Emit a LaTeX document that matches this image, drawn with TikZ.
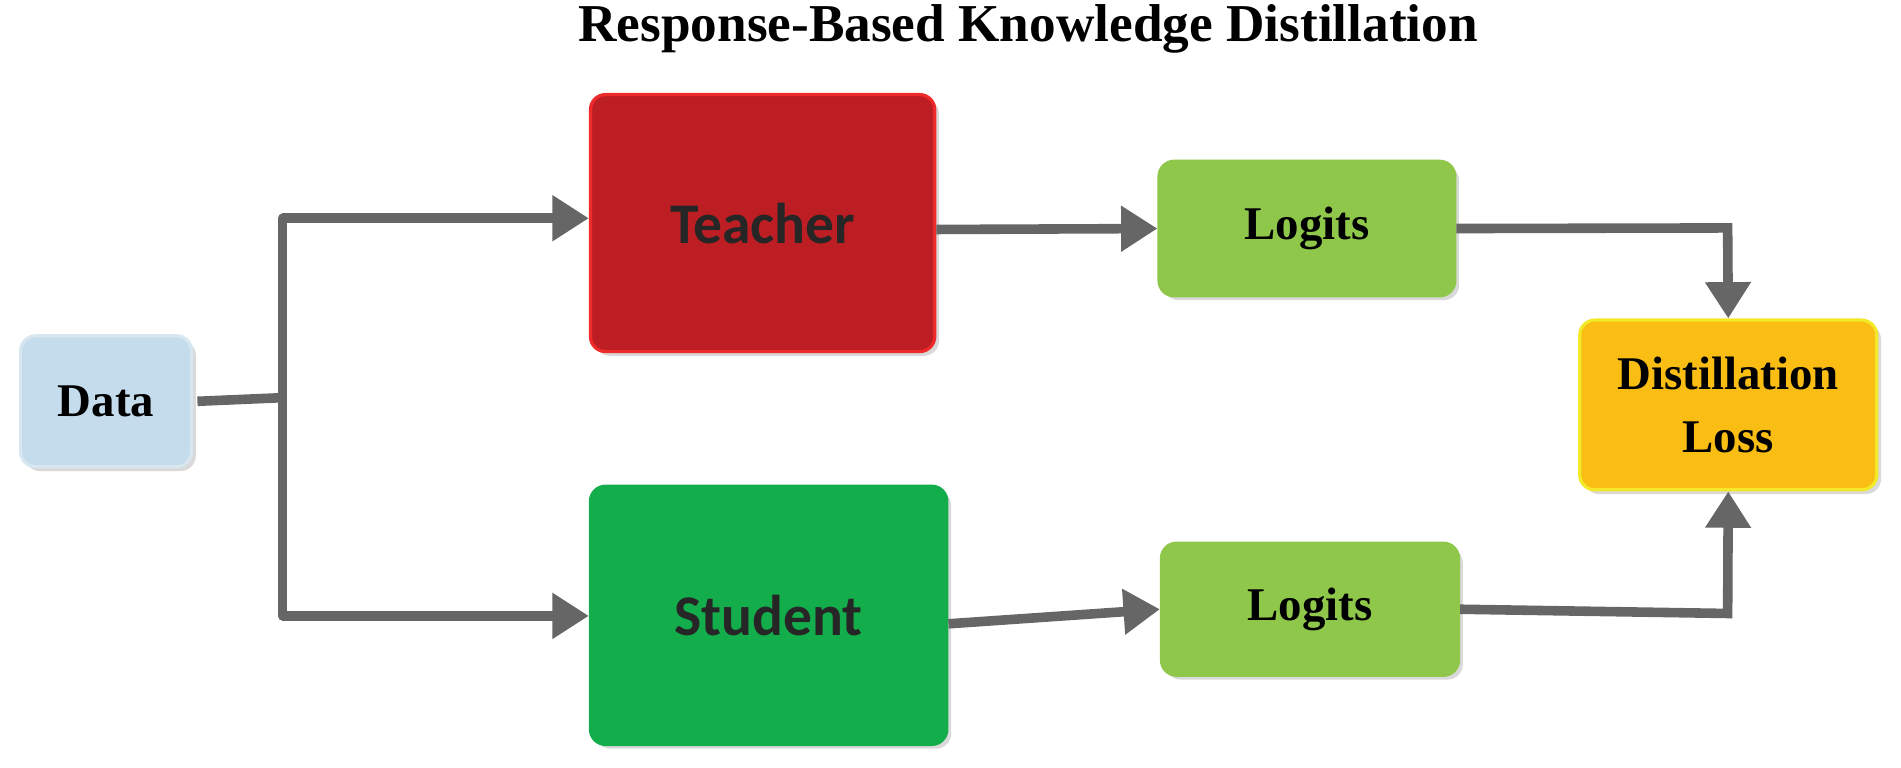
\documentclass[tikz,border=0pt]{standalone}
\usepackage{fontspec}
\setmainfont{Liberation Serif}
\newfontfamily\calib{Carlito}
\usetikzlibrary{arrows.meta,shadows}
\definecolor{lgray}{HTML}{666666}
\definecolor{datafill}{HTML}{C5DCEC}
\definecolor{databord}{HTML}{D8E6F0}
\definecolor{teachfill}{HTML}{BD1E24}
\definecolor{teachbord}{HTML}{EE2A2A}
\definecolor{studfill}{HTML}{13AD4C}
\definecolor{logfill}{HTML}{8FC74A}
\definecolor{lossfill}{HTML}{F9BD14}
\definecolor{lossbord}{HTML}{F2EA28}
\begin{document}
\begin{tikzpicture}[x=0.02cm,y=-0.02cm,
  box/.style={rounded corners=0.25cm,line width=1.5pt,align=center,inner sep=0pt,
    drop shadow={shadow xshift=2pt,shadow yshift=-2pt,fill=black!25,opacity=0.6}},
  conn/.style={draw=lgray,line width=4.5pt},
  arr/.style={conn,-{Triangle[length=0.6cm,width=0.72cm]}},
  serifb/.style={font=\fontsize{22}{26}\selectfont\bfseries},
  sansb/.style={font=\calib\fontsize{27}{30}\selectfont\bfseries}]
\useasboundingbox (0,0) rectangle (1568,633);
\node[font=\fontsize{25}{30}\selectfont\bfseries] (title) at (848,24) {Response-Based Knowledge Distillation};
\node[box,fill=datafill,draw=databord,minimum width=141*0.02cm,minimum height=108*0.02cm,serifb] (data) at (87.5,331) {Data};
\node[box,fill=teachfill,draw=teachbord,minimum width=284*0.02cm,minimum height=212*0.02cm,sansb,text=black!85] (teacher) at (629,184) {Teacher};
\node[box,fill=studfill,draw=studfill,minimum width=294*0.02cm,minimum height=213*0.02cm,sansb,text=black!85] (student) at (634,507.5) {Student};
\node[box,fill=logfill,draw=logfill,minimum width=244*0.02cm,minimum height=111*0.02cm,serifb] (log1) at (1078,188.5) {Logits};
\node[box,fill=logfill,draw=logfill,minimum width=245*0.02cm,minimum height=109*0.02cm,serifb] (log2) at (1080.5,502.5) {Logits};
\node[box,fill=lossfill,draw=lossbord,minimum width=245*0.02cm,minimum height=140*0.02cm,serifb] (loss) at (1425.5,334) {Distillation\\[4pt]Loss};
\coordinate (split) at (233,328);
\coordinate (top) at (233,180);
\coordinate (bot) at (233,508);
\coordinate (c1) at (1425,188);
\coordinate (c2) at (1425,506);
\draw[conn] ([xshift=2pt]data.east) -- (split);
\draw[conn,line cap=round] (top) -- (bot);
\draw[arr] (top) -- (teacher.west |- top);
\draw[arr] (bot) -- (student.west |- bot);
\draw[arr] ([yshift=-3pt]teacher.east) -- (log1.west);
\draw[arr] ([yshift=-4pt]student.east) -- (log2.west);
\draw[arr] (log1.east) -- (c1) -- (loss.north);
\draw[arr] (log2.east) -- (c2) -- (loss.south);
\end{tikzpicture}
\end{document}
